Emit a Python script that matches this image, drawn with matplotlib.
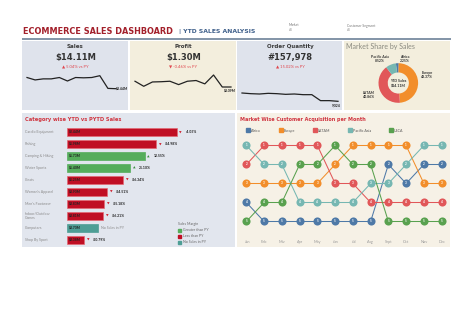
import matplotlib
matplotlib.use('Agg')
import matplotlib.pyplot as plt
from matplotlib.patches import Rectangle, Patch
from matplotlib.lines import Line2D
from matplotlib.transforms import blended_transform_factory

plt.rcParams['font.family'] = ['Lato', 'DejaVu Sans']
BOLD_FONT = ['DejaVu Sans']

# ---- data ----
months = ['Jan', 'Feb', 'Mar', 'Apr', 'May', 'Jun', 'Jul', 'Aug', 'Sept', 'Oct', 'Nov', 'Dec']
sales_trend = [1.18, 1.02, 1.09, 1.09, 1.18, 0.95, 1.18, 1.16, 1.18, 1.30, 0.46, 0.44]
profit_trend = [0.114, 0.093, 0.111, 0.112, 0.114, 0.100, 0.114, 0.117, 0.103, 0.140, 0.090, 0.090]
qty_trend = [13500, 13140, 12960, 13320, 13140, 12780, 12960, 12600, 12600, 9380, 9380, 9024]

share_markets = ['Africa', 'Europe', 'LATAM', 'Pacific Asia']
share_values = [2.25, 48.37, 40.86, 8.52]

categories = ['Cardio Equipment', 'Fishing', 'Camping & Hiking', 'Water Sports', 'Cleats',
              "Women's Apparel", "Men's Footwear", 'Indoor/Outdoor\nGames', 'Computers', 'Shop By Sport']
cat_sales = [2.44, 1.98, 1.73, 1.40, 1.25, 0.90, 0.83, 0.81, 0.70, 0.38]
cat_change = [-4.05, -24.98, 12.55, 21.10, -26.34, -24.51, -25.18, -26.21, None, -20.79]

markets = ['Africa', 'Europe', 'LATAM', 'Pacific Asia', 'USCA']
ranks = {
    'Africa':       [4, 5, 5, 5, 5, 5, 5, 5, 2, 3, 2, 2],
    'Europe':       [3, 3, 3, 3, 3, 2, 1, 1, 1, 1, 3, 3],
    'LATAM':        [2, 1, 1, 1, 1, 3, 3, 4, 4, 4, 4, 4],
    'Pacific Asia': [1, 2, 2, 4, 4, 4, 4, 3, 3, 2, 1, 1],
    'USCA':         [5, 4, 4, 2, 2, 1, 2, 2, 5, 5, 5, 5],
}
market_colors = {'Africa': '#4e79a7', 'Europe': '#f28e2b', 'LATAM': '#e15759',
                 'Pacific Asia': '#76b7b2', 'USCA': '#59a14f'}

W, H = 474, 334
BLUE_BG = '#dfe3ec'
BEIGE_BG = '#f3eedd'
RED = '#c00f24'
GREEN = '#55ad5b'
TEAL = '#4d9e95'


def box(x0, y0, x1, y1):
    # pixel box (top-left origin) -> figure fraction rect
    return [x0 / W, 1 - y1 / H, (x1 - x0) / W, (y1 - y0) / H]


fig = plt.figure(figsize=(W / 100, H / 100), dpi=100)
bg = fig.add_axes([0, 0, 1, 1])
bg.set_xlim(0, W)
bg.set_ylim(H, 0)
bg.axis('off')

# header
bg.text(23, 31, 'ECOMMERCE SALES DASHBOARD', fontsize=5.9, fontweight='bold', family=BOLD_FONT,
        color='#a3202b', va='center')
bg.text(179.5, 31.5, '| YTD SALES ANALYSIS', fontsize=4.4, fontweight='bold', family=BOLD_FONT,
        color='#3e5f8a', va='center')
bg.text(289, 25.5, 'Market', fontsize=2.4, color='#777777', va='center')
bg.text(289, 30, 'All', fontsize=2.4, color='#999999', va='center')
bg.text(347, 25.5, 'Customer Segment', fontsize=2.4, color='#777777', va='center')
bg.text(347, 30, 'All', fontsize=2.4, color='#999999', va='center')
bg.plot([22.5, 451.5], [39, 39], color='#6d8198', lw=1.2, solid_capstyle='butt')

# panels
for (x0, x1, c) in [(22.5, 128.5, BLUE_BG), (130.5, 236.5, BEIGE_BG),
                    (237.5, 342.5, BLUE_BG), (344, 450.5, BEIGE_BG)]:
    bg.add_patch(Rectangle((x0, 41), x1 - x0, 68.5, facecolor=c, edgecolor='none'))
bg.add_patch(Rectangle((22.5, 113), 213, 134, facecolor='#e2e6ee', edgecolor='none'))
bg.add_patch(Rectangle((237.5, 113), 213, 134, facecolor='#f6f1e6', edgecolor='none'))

# KPI texts
kpis = [(75.5, 'Sales', '$14.11M', '\u25b2 5.04% vs PY'),
        (183.5, 'Profit', '$1.30M', '\u25bc -0.46% vs PY'),
        (290, 'Order Quantity', '#157,978', '\u25b2 15.02% vs PY')]
for cx, name, val, chg in kpis:
    bg.text(cx, 46.8, name, fontsize=4.0, fontweight='bold', family=BOLD_FONT, color='#3a3a3a',
            ha='center', va='center')
    bg.text(cx, 57.8, val, fontsize=6.0, fontweight='bold', family=BOLD_FONT, color='#333333',
            ha='center', va='center')
    bg.text(cx, 67, chg, fontsize=3.0, color='#e0464e', ha='center', va='center')


def spark(vals, rect, label, lx, ly):
    ax = fig.add_axes(box(*rect))
    ax.plot(range(len(vals)), vals, color='#222222', lw=0.9, clip_on=False)
    ax.set_xlim(0, len(vals) - 1)
    ax.set_ylim(min(vals), max(vals))
    ax.axis('off')
    bg.text(lx, ly, label, fontsize=2.4, fontweight='bold', color='#222222', ha='right', va='center')


spark(sales_trend, (27, 75.7, 116, 88.7), '$0.44M', 128.5, 89)
spark(profit_trend, (135, 75, 231, 87), '$0.09M', 235.5, 90.5)
spark(qty_trend, (242, 93, 338, 101.3), '9,024', 340.5, 105.5)

# market share donut
bg.text(346, 47, 'Market Share by Sales', fontsize=5, color='#8a8a80', va='center')
dax = fig.add_axes(box(398.3 - 22, 83 - 22, 398.3 + 22, 83 + 22))
dax.pie(share_values, colors=[market_colors[m] for m in share_markets], startangle=97,
        counterclock=False, radius=0.9, wedgeprops=dict(width=0.42, edgecolor='none'))
dax.set_xlim(-1, 1)
dax.set_ylim(-1, 1)
dax.set_aspect('equal')
dax.axis('off')
dax.text(0, 0.1, 'YTD Sales', fontsize=2.6, fontweight='bold', color='#333333', ha='center', va='center')
dax.text(0, -0.12, '$14.11M', fontsize=2.6, fontweight='bold', color='#333333', ha='center', va='center')
share_pos = {'Africa': (405, 58.7), 'Europe': (427, 74.7), 'LATAM': (369, 94.7), 'Pacific Asia': (380, 58.7)}
for m, v in zip(share_markets, share_values):
    x, y = share_pos[m]
    bg.text(x, y, '%s\n%.2f%%' % (m, v), fontsize=2.5, fontweight='bold', color='#333333',
            ha='center', va='center', linespacing=1.1)

# category bars
bg.text(25, 119, 'Category wise YTD vs PYTD Sales', fontsize=3.7, fontweight='bold', family=BOLD_FONT,
        color='#d0343f', va='center')
cax = fig.add_axes(box(66.7, 126.3, 232, 245.7))
cax.set_facecolor('none')
px_per_m = 110 / 2.44
cax.set_xlim(0, (232 - 66.7) / px_per_m)
cax.set_ylim(9.5, -0.5)
cax.axis('off')
tr = blended_transform_factory(bg.transData, cax.transData)
for i, (cat, v, ch) in enumerate(zip(categories, cat_sales, cat_change)):
    if ch is None:
        col, ec = TEAL, TEAL
    elif ch > 0:
        col, ec = GREEN, GREEN
    else:
        col, ec = RED, '#e46a75'
    cax.barh(i, v, height=0.7, color=col, edgecolor=ec, linewidth=0.5)
    cax.text(0.05, i, '$%.2fM' % v, fontsize=2.4, fontweight='bold', color='#222222', va='center')
    if ch is None:
        cax.text(v + 0.06, i, 'No Sales in PY', fontsize=2.6, color='#8a8a8a', va='center')
    else:
        arrow = '\u25b2' if ch > 0 else '\u25bc'
        acol = '#3a8a3e' if ch > 0 else '#d0202e'
        cax.text(v + 0.06, i, arrow, fontsize=2.4, color=acol, va='center')
        cax.text(v + 0.2, i, '%.2f%%' % ch, fontsize=2.5, fontweight='bold', color='#222222', va='center')
    cax.text(25, i, cat, transform=tr, fontsize=2.6, color='#8a8a8a', va='center', linespacing=1.0)

leg = cax.legend(handles=[Patch(color=GREEN, label='Greater than PY'),
                          Patch(color=RED, label='Less than PY'),
                          Patch(color=TEAL, label='No Sales in PY')],
                 title='Sales Margin', loc='upper left', bbox_to_anchor=(176 / W, 1 - 220.5 / H),
                 bbox_transform=fig.transFigure, frameon=False, fontsize=2.6, title_fontsize=2.6,
                 handlelength=0.9, handleheight=0.9, handletextpad=0.6, labelspacing=0.55, borderpad=0)
leg.get_title().set_color('#666666')
leg._legend_box.align = 'left'
for t in leg.get_texts():
    t.set_color('#666666')

# bump chart
bg.text(240, 119, 'Market Wise Customer Acquisition per Month', fontsize=3.55, fontweight='bold',
        family=BOLD_FONT, color='#d0343f', va='center')
bax = fig.add_axes(box(237.5, 136, 450.5, 231))
bax.set_facecolor('none')
for m in markets:
    bax.plot(range(12), ranks[m], color=market_colors[m], lw=0.75, zorder=2)
    bax.scatter(range(12), ranks[m], s=34, color=market_colors[m], zorder=3, linewidths=0)
    for j, r in enumerate(ranks[m]):
        bax.text(j, r, str(r), fontsize=2.2, fontweight='bold', color='#ffffff',
                 ha='center', va='center', zorder=4)
bax.set_xlim(-0.5, 11.5)
bax.set_ylim(5.5, 0.5)
bax.set_xticks(range(12))
bax.set_xticklabels(months, fontsize=2.8, color='#999999')
bax.tick_params(axis='x', length=0, pad=6.5)
bax.set_yticks([])
for s in bax.spines.values():
    s.set_visible(False)
bleg = bax.legend(handles=[Line2D([], [], marker='s', ls='none', color=market_colors[m],
                                  markersize=2.4, label=m) for m in markets],
                  loc='center left', bbox_to_anchor=(245.5 / W, 1 - 130.7 / H), bbox_transform=fig.transFigure,
                  ncol=5, frameon=False, fontsize=2.6, handlelength=0.6, handletextpad=0.5,
                  columnspacing=5.2, borderpad=0)
for t in bleg.get_texts():
    t.set_color('#555555')

fig.savefig('out.png', dpi=100, facecolor='white')
